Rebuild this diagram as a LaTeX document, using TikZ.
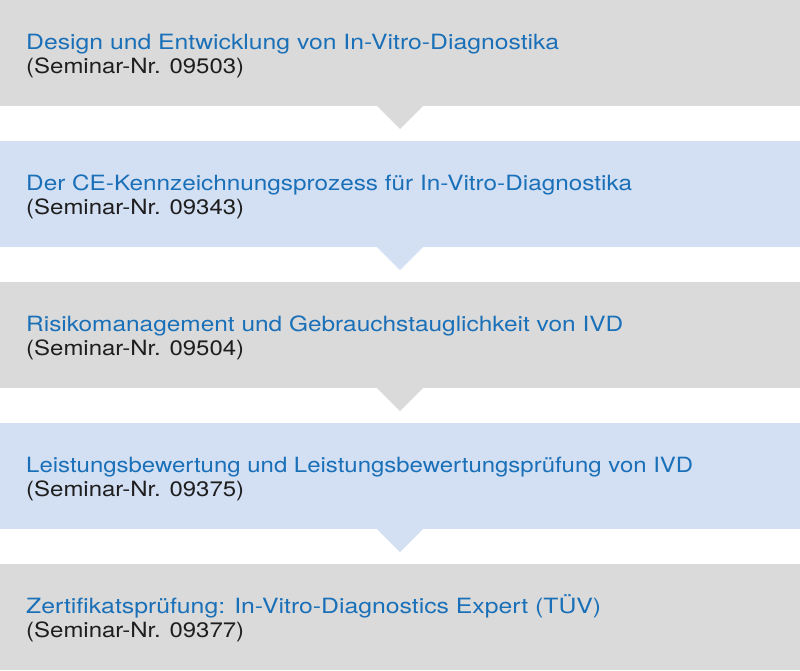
\documentclass[tikz,border=0pt]{standalone}
\usepackage{fontspec}
\usepackage{graphicx}
\setmainfont{TeX Gyre Heros}
\definecolor{boxgray}{HTML}{DADADA}
\definecolor{boxblue}{HTML}{D3DFF2}
\definecolor{titleblue}{HTML}{1A70B8}
\definecolor{subblack}{HTML}{1E1E1E}
\newcommand{\fitw}[2]{\resizebox{#1pt}{\height}{#2}}
\tikzset{
  ttl/.style={anchor=base west, inner sep=0pt, text=titleblue, font=\fontsize{21}{25}\selectfont},
  sub/.style={anchor=base west, inner sep=0pt, text=subblack, font=\fontsize{21}{25}\selectfont},
}
\begin{document}
\begin{tikzpicture}[x=1pt,y=-1pt]
\useasboundingbox (0,0) rectangle (800,670);
% stage boxes
\foreach \i/\c/\t/\w/\n in {0/boxgray/{Design und Entwicklung von In-Vitro-Diagnostika}/533/09503,
                         1/boxblue/{Der CE-Kennzeichnungsprozess für In-Vitro-Diagnostika}/606/09343,
                         2/boxgray/{Risikomanagement und Gebrauchstauglichkeit von IVD}/597/09504,
                         3/boxblue/{Leistungsbewertung und Leistungsbewertungsprüfung von IVD}/667/09375,
                         4/boxgray/{Zertifikatsprüfung: In-Vitro-Diagnostics Expert (TÜV)}/575/09377}{
  \pgfmathsetmacro{\top}{\i*141}
  \fill[fill=\c] (0,\top) rectangle (800,\top+105.5);
  \node[ttl] (t\i) at (26,\top+49) {\fitw{\w}{\t}};
  \node[sub] (s\i) at (26,\top+73.5) {\fitw{218}{(Seminar-Nr. \n)}};
}
\foreach \i/\c in {0/boxgray,1/boxblue,2/boxgray,3/boxblue}{
  \pgfmathsetmacro{\bot}{\i*141+105}
  \fill[fill=\c] (376,\bot) -- (424,\bot) -- (400,\bot+24) -- cycle;
}
\end{tikzpicture}
\end{document}
